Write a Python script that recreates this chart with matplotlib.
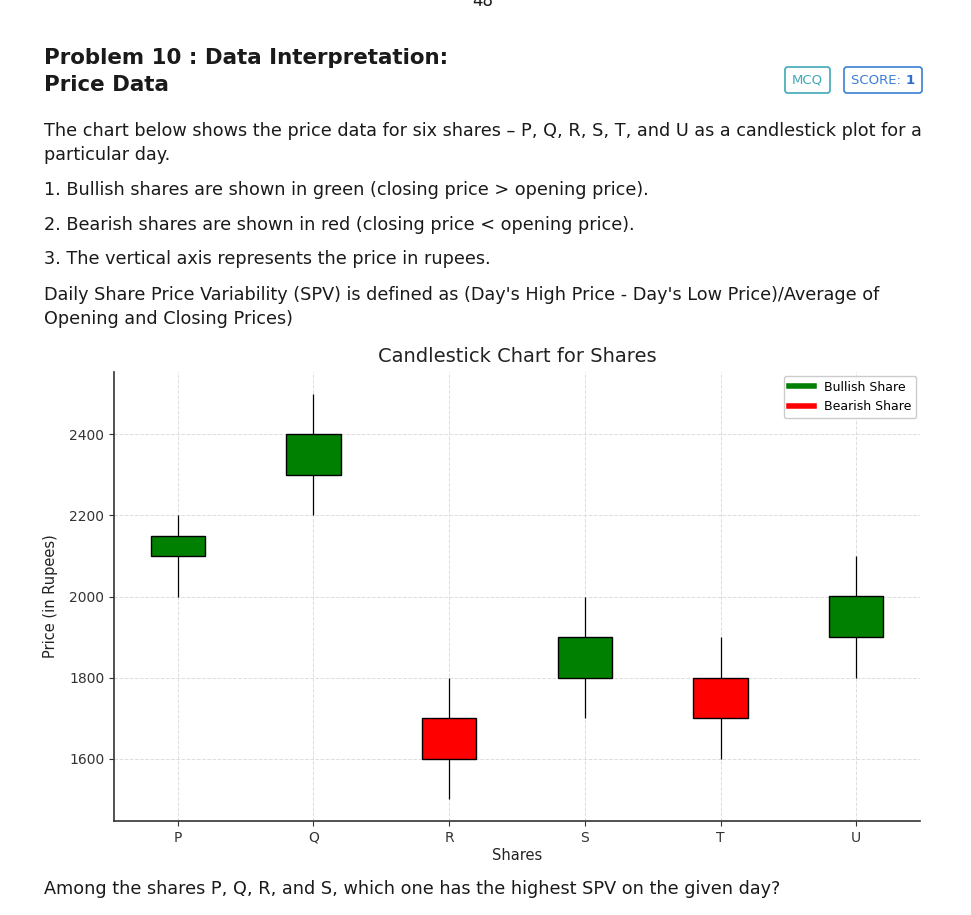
import numpy as np
from matplotlib import pyplot as plt
from matplotlib.patches import FancyBboxPatch

# candle data
shares = ['P', 'Q', 'R', 'S', 'T', 'U']
open_p = [2100, 2300, 1700, 1800, 1800, 1900]
close_p = [2150, 2400, 1600, 1900, 1700, 2000]
high_p = [2200, 2500, 1800, 2000, 1900, 2100]
low_p = [2000, 2200, 1500, 1700, 1600, 1800]

intro = ("The chart below shows the price data for six shares \u2013 P, Q, R, S, T, and U as a candlestick plot for a\n"
         "particular day.")
points = ["1. Bullish shares are shown in green (closing price > opening price).",
          "2. Bearish shares are shown in red (closing price < opening price).",
          "3. The vertical axis represents the price in rupees."]
spv = ("Daily Share Price Variability (SPV) is defined as (Day's High Price - Day's Low Price)/Average of\n"
       "Opening and Closing Prices)")
question = "Among the shares P, Q, R, and S, which one has the highest SPV on the given day?"

W, H = 971, 915
my_dpi = 100
fig = plt.figure(figsize=(W/my_dpi, H/my_dpi), dpi=my_dpi)
fig.patch.set_facecolor('white')

def fx(px):
    return px/W
def fy(py):
    return 1 - py/H

txtc = '#1a1a1a'
fs_body = 12.7

# page header (page number is cut by the top edge in the reference too)
fig.text(fx(483), fy(1), '48', ha='center', va='center', fontsize=12, color=txtc)
fig.text(fx(44), fy(58), 'Problem 10 : Data Interpretation:', fontsize=15.4, fontweight='bold',
         va='center', color=txtc)
fig.text(fx(44), fy(85), 'Price Data', fontsize=15.4, fontweight='bold', va='center', color=txtc)

# badges
for x0, x1, col in [(785, 830, '#3fa9b5'), (844, 922, '#3b7fd4')]:
    box = FancyBboxPatch((fx(x0), fy(93)), fx(x1 - x0), fy(67) - fy(93),
                         boxstyle='round,pad=0,rounding_size=0.003', transform=fig.transFigure,
                         facecolor='white', edgecolor=col, linewidth=1.2)
    fig.patches.append(box)
fig.text(fx(807.5), fy(80), 'MCQ', ha='center', va='center', fontsize=9.5, color='#3fa9b5')
fig.text(fx(851), fy(80), 'SCORE: ', ha='left', va='center', fontsize=9.5, color='#3b7fd4')
fig.text(fx(906), fy(80), '1', ha='left', va='center', fontsize=9.5, color='#2a6fc9',
         fontweight='bold')

# body text
fig.text(fx(44), fy(143), intro, fontsize=fs_body, va='center', color=txtc, linespacing=1.5)
for i, p in enumerate(points):
    fig.text(fx(44), fy(190 + 34.5*i), p, fontsize=fs_body, va='center', color=txtc)
fig.text(fx(44), fy(307), spv, fontsize=fs_body, va='center', color=txtc, linespacing=1.5)
fig.text(fx(44), fy(889), question, fontsize=fs_body, va='center', color=txtc)

# candlestick chart
ax = fig.add_axes([fx(114), fy(821), fx(920 - 114), fy(372) - fy(821)])
x = np.arange(len(shares))
for i in range(len(shares)):
    col = 'green' if close_p[i] > open_p[i] else 'red'
    ax.vlines(x[i], low_p[i], high_p[i], color='black', linewidth=0.9, zorder=2)
    ax.bar(x[i], abs(close_p[i] - open_p[i]), bottom=min(open_p[i], close_p[i]), width=0.4,
           color=col, edgecolor='black', linewidth=1.0, zorder=3)

ax.set_xlim(-0.47, 5.47)
ax.set_ylim(1447, 2553)
ax.set_xticks(x)
ax.set_xticklabels(shares)
ax.set_yticks([1600, 1800, 2000, 2200, 2400])
ax.tick_params(labelsize=10, colors='#333333')
ax.grid(True, linestyle='--', color='#dddddd', linewidth=0.7)
ax.set_axisbelow(True)
for s in ['top', 'right']:
    ax.spines[s].set_visible(False)
for s in ['left', 'bottom']:
    ax.spines[s].set_color('#333333')
    ax.spines[s].set_linewidth(1.2)

ax.set_title('Candlestick Chart for Shares', fontsize=14, color='#222222', pad=7)
ax.set_xlabel('Shares', fontsize=10.5, color='#222222', labelpad=2)
ax.set_ylabel('Price (in Rupees)', fontsize=10.5, color='#222222', labelpad=8)

l1, = ax.plot([], [], color='green', linewidth=4, label='Bullish Share')
l2, = ax.plot([], [], color='red', linewidth=4, label='Bearish Share')
ax.legend(handles=[l1, l2], loc='upper right', fontsize=9, handlelength=2, borderaxespad=0.3,
          framealpha=1, edgecolor='#cccccc', fancybox=True)

fig.savefig('out.png', dpi=my_dpi)
